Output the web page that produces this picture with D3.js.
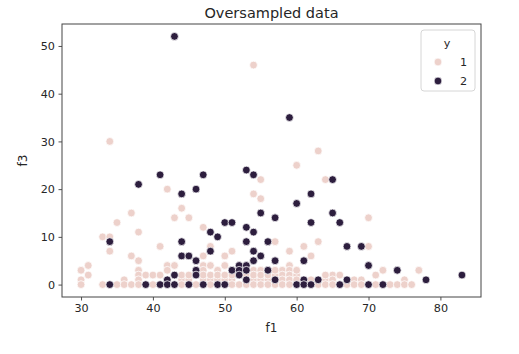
<!DOCTYPE html>
<html>
<head>
<meta charset="utf-8">
<script src="https://cdn.jsdelivr.net/npm/d3@7"></script>
<style>
  body { margin: 0; background: #fff; }
  text { font-family: "DejaVu Sans", sans-serif; fill: #262626; }
</style>
</head>
<body>
<div id="chart"></div>
<script>
// Class y = 1 (light) points
const f1_class1 = [54, 34, 63, 60, 55, 64, 42, 54, 55, 44, 37, 43, 45, 70, 35, 47, 38, 33, 34, 41,
  48, 61, 70, 34, 51, 59, 37, 47, 50, 62, 38, 57, 63, 31, 42, 43, 47, 48, 50, 59,
  30, 38, 42, 47, 49, 54, 55, 58, 59, 72, 77, 31, 38, 39, 40, 41, 58, 59, 60, 65,
  71, 30, 36, 38, 75,
  44, 45, 47, 48, 49, 50, 51, 54, 55, 56, 58, 59, 60, 62, 64, 65, 68, 69,
  44, 45, 47, 48, 49, 50, 51, 53, 54, 55, 56, 57, 64, 66, 56, 57, 60,
  30, 33, 35, 36, 37, 38, 40, 44, 46, 48, 51, 52, 53, 54, 55, 56, 57, 58, 59,
  63, 64, 65, 67, 68, 69, 71, 73, 74, 75, 76];
const f3_class1 = [46, 30, 28, 25, 22, 22, 20, 19, 18, 16, 15, 14, 14, 14, 13, 12, 11, 10, 10, 8,
  8, 8, 8, 7, 7, 7, 6, 6, 6, 6, 5, 9, 9, 4, 4, 4, 4, 4, 4, 4,
  3, 3, 3, 3, 3, 3, 3, 3, 3, 3, 3, 2, 2, 2, 2, 2, 2, 2, 2, 2,
  2, 1, 1, 1, 1,
  1, 1, 1, 1, 1, 1, 1, 1, 1, 1, 1, 1, 1, 1, 1, 1, 1, 1,
  2, 2, 2, 2, 2, 2, 2, 2, 2, 2, 2, 2, 2, 2, 3, 3, 3,
  0, 0, 0, 0, 0, 0, 0, 0, 0, 0, 0, 0, 0, 0, 0, 0, 0, 0, 0,
  0, 0, 0, 0, 0, 0, 0, 0, 0, 0, 0];

// Class y = 2 (dark) points
const f1_class2 = [43, 59, 53, 54, 47, 41, 38, 46, 44, 62, 60, 55, 65, 57, 50, 51, 62, 66, 53, 48,
  54, 49, 34, 44, 53, 56, 67, 69, 48, 54, 44, 45, 55, 46, 54, 57, 61, 52, 53, 70,
  46, 51, 52, 53, 56, 74, 43, 46, 52, 83, 42, 53, 57, 61, 63, 67, 78, 65,
  34, 39, 41, 42, 43, 45, 47, 49, 50, 60, 61, 62, 66, 70, 72];
const f3_class2 = [52, 35, 24, 23, 23, 23, 21, 20, 19, 19, 17, 15, 15, 14, 13, 13, 13, 13, 12, 11,
  11, 10, 9, 9, 9, 9, 8, 8, 7, 7, 6, 6, 6, 5, 5, 5, 5, 4, 4, 4,
  3, 3, 3, 3, 3, 3, 2, 2, 2, 2, 1, 1, 1, 1, 1, 1, 1, 22,
  0, 0, 0, 0, 0, 0, 0, 0, 0, 0, 0, 0, 0, 0, 0];

const classes = ["1", "2"];
const colors = ["#edd1cb", "#2d1e3e"];
const xTicks = [30, 40, 50, 60, 70, 80];
const yTicks = [0, 10, 20, 30, 40, 50];

const W = 519, H = 354;
const margin = {left: 62, top: 24, right: 481, bottom: 297};

const svg = d3.select("#chart").append("svg")
    .attr("width", W)
    .attr("height", H);

const x = d3.scaleLinear().domain([27.35, 85.65]).range([margin.left, margin.right]);
const y = d3.scaleLinear().domain([-2.6, 54.6]).range([margin.bottom, margin.top]);

// Points: light class first, dark on top
const pts1 = f1_class1.map((v, i) => ({f1: v, f3: f3_class1[i], c: 0}));
const pts2 = f1_class2.map((v, i) => ({f1: v, f3: f3_class2[i], c: 1}));

svg.append("g").selectAll("circle")
  .data(pts1.concat(pts2))
  .join("circle")
    .attr("cx", d => x(d.f1))
    .attr("cy", d => y(d.f3))
    .attr("r", 3.9)
    .attr("fill", d => colors[d.c])
    .attr("stroke", "#fff")
    .attr("stroke-width", 0.75);

// Axes
const xAxis = svg.append("g")
    .attr("transform", "translate(0," + margin.bottom + ")")
    .call(d3.axisBottom(x).tickValues(xTicks).tickSize(3.5).tickPadding(3.5));
const yAxis = svg.append("g")
    .attr("transform", "translate(" + margin.left + ",0)")
    .call(d3.axisLeft(y).tickValues(yTicks).tickSize(3.5).tickPadding(3.5));

[xAxis, yAxis].forEach(a => {
  a.select(".domain").remove();
  a.selectAll("line").attr("stroke", "#262626").attr("stroke-width", 0.8);
  a.selectAll("text")
    .attr("font-family", "DejaVu Sans, sans-serif")
    .attr("font-size", 11.2)
    .attr("fill", "#262626");
});

// Frame
svg.append("rect")
    .attr("x", margin.left).attr("y", margin.top)
    .attr("width", margin.right - margin.left).attr("height", margin.bottom - margin.top)
    .attr("fill", "none")
    .attr("stroke", "#444")
    .attr("stroke-width", 1);

// Title and labels
const cx = (margin.left + margin.right) / 2;
svg.append("text")
    .attr("x", cx).attr("y", 17.5)
    .attr("text-anchor", "middle")
    .attr("font-size", 14.5)
    .text("Oversampled data");

svg.append("text")
    .attr("x", cx).attr("y", 332)
    .attr("text-anchor", "middle")
    .attr("font-size", 12)
    .text("f1");

svg.append("text")
    .attr("transform", "translate(27," + ((margin.top + margin.bottom) / 2) + ") rotate(-90)")
    .attr("text-anchor", "middle")
    .attr("font-size", 12)
    .text("f3");

// Legend
const lg = svg.append("g");
lg.append("rect")
    .attr("x", 421).attr("y", 30)
    .attr("width", 54).attr("height", 61)
    .attr("rx", 3)
    .attr("fill", "#fff").attr("fill-opacity", 0.8)
    .attr("stroke", "#d6d6d6").attr("stroke-width", 1);
lg.append("text")
    .attr("x", 447).attr("y", 47)
    .attr("text-anchor", "middle")
    .attr("font-size", 11.2)
    .text("y");
classes.forEach((c, i) => {
  lg.append("circle")
      .attr("cx", 438).attr("cy", 62 + i * 19)
      .attr("r", 3.9)
      .attr("fill", colors[i])
      .attr("stroke", "#fff").attr("stroke-width", 0.75);
  lg.append("text")
      .attr("x", 460).attr("y", 66 + i * 19)
      .attr("font-size", 11.2)
      .text(c);
});
</script>
</body>
</html>
